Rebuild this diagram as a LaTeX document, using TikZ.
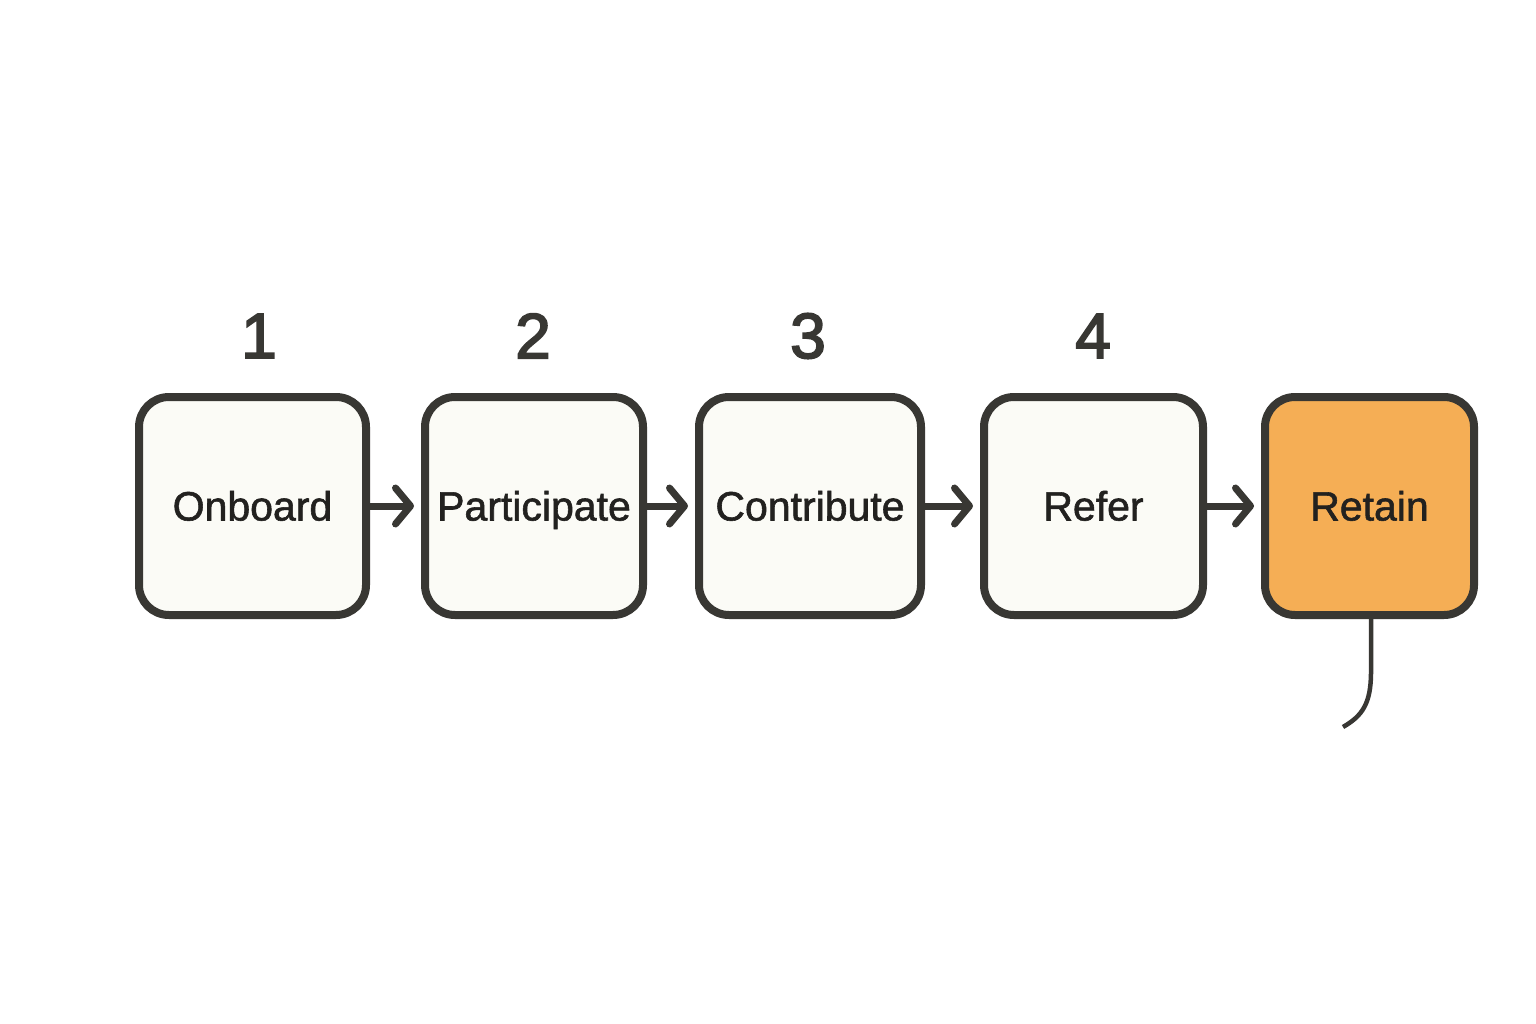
\documentclass[tikz,border=0pt]{standalone}
\usepackage{fontspec}
\setmainfont{Liberation Sans}
\newfontfamily\medfont{Liberation Sans}[FakeBold=1.4]
\newfontfamily\numfont{Liberation Sans}[FakeBold=2.8]
\usetikzlibrary{arrows.meta}
\definecolor{ink}{HTML}{383733}
\definecolor{paper}{HTML}{FBFBF6}
\definecolor{accent}{HTML}{F5AE55}
\tikzset{
  stepbox/.style={draw=ink, line width=8pt, rounded corners=30pt, fill=paper,
    minimum height=218pt, inner sep=0pt, text height=29pt, text depth=0pt,
    font=\medfont\fontsize{41}{48}\selectfont, text=ink!60!black},
  numlabel/.style={font=\numfont\fontsize{64}{70}\selectfont, text=ink},
  flow/.style={draw=ink, line width=7pt, -{Straight Barb[length=15pt,width=36pt,line cap=round,line join=round]}, shorten >=7pt, shorten <=0pt}
}
\begin{document}
\begin{tikzpicture}[x=1pt,y=-1pt]
\fill[white] (0,0) rectangle (1536,1024);
\useasboundingbox (0,0) rectangle (1536,1024);
\node[stepbox, minimum width=227pt] (b1) at (252.5,506) {Onboard};
\node[stepbox, minimum width=218pt] (b2) at (534,506) {Participate};
\node[stepbox, minimum width=222pt] (b3) at (810,506) {Contribute};
\node[stepbox, minimum width=219pt] (b4) at (1093.5,506) {Refer};
\node[stepbox, minimum width=209pt, fill=accent] (b5) at (1369.5,506) {Retain};
\node[numlabel] (n1) at (259,336) {1};
\node[numlabel] (n2) at (533,336) {2};
\node[numlabel] (n3) at (808,336) {3};
\node[numlabel] (n4) at (1093,336) {4};
\draw[flow] (b1.east) -- (b2.west);
\draw[flow] (b2.east) -- (b3.west);
\draw[flow] (b3.east) -- (b4.west);
\draw[flow] (b4.east) -- (b5.west);
\coordinate (tail) at (1343,727);
\draw[ink, line width=4.5pt] ([xshift=1.5pt]b5.south) -- (1371,672) .. controls (1371,704) and (1362,716) .. (tail);
\end{tikzpicture}
\end{document}
